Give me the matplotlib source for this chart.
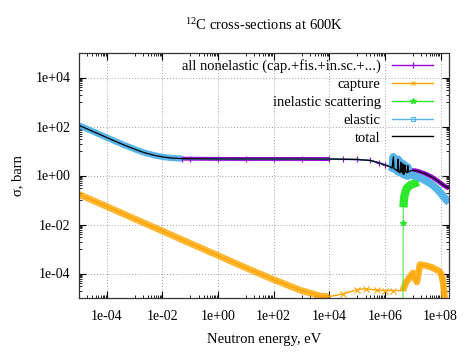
# 12C cross-sections at 600K, gnuplot-style log-log chart
import numpy as np
import matplotlib
matplotlib.use('Agg')
import matplotlib.pyplot as plt
from matplotlib.lines import Line2D
from matplotlib.ticker import FixedLocator, FuncFormatter, NullFormatter

plt.rcParams['font.family'] = ['Liberation Serif', 'DejaVu Serif']
plt.rcParams['mathtext.fontset'] = 'custom'
plt.rcParams['mathtext.rm'] = 'Liberation Serif'
plt.rcParams['mathtext.it'] = 'Liberation Serif:italic'

# ---- data (energy in eV, sigma in barn) ----
e_el = [1e-5, 2e-5, 5e-5, 1e-4, 2e-4, 5e-4, 1e-3, 2e-3, 5e-3, 1e-2, 2e-2, 5e-2,
        1e-1, 1e0, 1e1, 1e2, 1e3, 1e4, 3e4, 1e5, 3e5, 6e5, 1e6, 1.5e6, 1.8e6,
        2.0e6, 2.1e6, 2.5e6, 2.8e6, 2.95e6, 3.1e6, 3.5e6, 3.7e6, 3.9e6, 4.3e6,
        4.4e6, 4.6e6, 5.0e6, 5.3e6, 5.6e6, 6.3e6, 6.6e6, 7e6, 8e6, 9e6,
        1.2e7, 1.5e7, 2e7, 3e7, 5e7, 8e7, 1.2e8, 1.6e8, 2e8]
s_el = [111, 79, 50, 35.4, 25, 16.2, 11.9, 8.9, 6.7, 5.76, 5.2, 4.9,
        4.84, 4.76, 4.74, 4.74, 4.73, 4.7, 4.6, 4.5, 4.1, 3.3, 2.7, 2.3, 2.0,
        5.8, 1.9, 1.7, 1.5, 4.6, 1.4, 1.3, 3.5, 1.5, 1.25,
        3.0, 1.1, 1.05, 2.6, 1.1, 0.95, 2.2, 1.0, 1.05, 1.05,
        0.95, 0.88, 0.78, 0.6, 0.42, 0.26, 0.15, 0.1, 0.08]

e_tot_hi = [5.0e6, 5.3e6, 5.6e6, 6.3e6, 6.6e6, 7e6, 8e6, 9e6,
            1.2e7, 1.5e7, 2e7, 3e7, 5e7, 8e7, 1.2e8, 1.6e8, 2e8]
s_tot_hi = [1.2, 2.7, 1.4, 1.3, 2.5, 1.4, 1.5, 1.6,
            1.6, 1.5, 1.35, 1.15, 0.85, 0.6, 0.42, 0.34, 0.3]
n_lo = e_el.index(4.6e6) + 1
e_tot = e_el[:n_lo] + e_tot_hi
s_tot = s_el[:n_lo] + s_tot_hi

e_cap = [1e-5, 1e-4, 1e-3, 1e-2, 1e-1, 1e0, 1e1, 1e2, 1e3, 5e3, 1e4, 3e4, 1e5,
         2e5, 5e5, 1e6, 2e6, 4.4e6, 5.5e6, 7e6, 1e7, 1.2e7, 1.4e7, 1.8e7, 3e7,
         5e7, 9.4e7, 1.1e8, 1.25e8, 1.4e8]
s_cap = [0.17, 0.054, 0.017, 5.4e-3, 1.7e-3, 5.4e-4, 1.7e-4, 5.6e-5, 2.0e-5,
         1.2e-5, 1.15e-5, 1.45e-5, 2.2e-5, 2.4e-5, 2.1e-5, 2.0e-5, 2.0e-5,
         2.0e-5, 4e-5, 6e-5, 1.05e-4, 6e-5, 4.5e-5, 2.3e-4, 2.1e-4, 1.75e-4,
         1.2e-4, 8e-5, 4e-5, 1e-5]

e_inel = [4.43e6, 4.5e6, 4.6e6, 4.8e6, 5e6, 6e6, 8e6, 1e7, 1.3e7, 1.6e7]
s_inel = [1e-8, 0.012, 0.05, 0.1, 0.15, 0.3, 0.4, 0.45, 0.5, 0.55]

labels = ['all nonelastic (cap.+fis.+in.sc.+...)', 'capture',
          'inelastic scattering', 'elastic', 'total']
c_non, c_cap, c_inel, c_el, c_tot = '#9400d3', '#ffa500', '#2ee82e', '#56b4e9', 'black'

# ---- figure ----
fig = plt.figure(figsize=(4.74, 3.55), dpi=100)
ax = fig.add_axes([79 / 474, 1 - 298 / 355, 370 / 474, 245 / 355])

e_el_a, s_el_a = np.array(e_el), np.array(s_el)
e_tot_a, s_tot_a = np.array(e_tot), np.array(s_tot)
e_cap_a, s_cap_a = np.array(e_cap), np.array(s_cap)

# all nonelastic (follows total in the picture)
ax.plot(e_tot_a, s_tot_a, color=c_non, lw=1)
m = (e_tot_a > 4e-2) & (e_tot_a <= 1e4)
ax.plot(e_tot_a[m], s_tot_a[m], color=c_non, lw=2.8, solid_capstyle='butt')
m = e_tot_a >= 9e6
ax.plot(e_tot_a[m], s_tot_a[m], color=c_non, lw=3.2, solid_capstyle='butt')
m = (e_tot_a > 4e-2) & (e_tot_a <= 1e6)
ax.plot(e_tot_a[m], s_tot_a[m], ls='none', color=c_non, marker='+', ms=5, mew=0.8)

# capture
ax.plot(e_cap_a, s_cap_a, color=c_cap, lw=1)
m = e_cap_a <= 1e4
ax.plot(e_cap_a[m], s_cap_a[m], color=c_cap, lw=4.8, solid_capstyle='butt', alpha=0.8)
m = e_cap_a >= 4.4e6
ax.plot(e_cap_a[m], s_cap_a[m], color=c_cap, lw=4.8, solid_capstyle='butt', alpha=0.85)
m = (e_cap_a > 1e4) & (e_cap_a < 4.4e6)
ax.plot(e_cap_a[m], s_cap_a[m], ls='none', color=c_cap, marker='x', ms=4, mew=0.8)

# inelastic scattering
ax.plot(e_inel, s_inel, color=c_inel, lw=1, alpha=0.7)
ax.plot(e_inel[2:], s_inel[2:], color=c_inel, lw=6, solid_capstyle='butt')
ax.plot(e_inel[1:2], s_inel[1:2], ls='none', color=c_inel, marker='*', ms=4)

# elastic
ax.plot(e_el_a, s_el_a, color=c_el, lw=1.2)
m = e_el_a <= 5e-2
ax.plot(e_el_a[m], s_el_a[m], color=c_el, lw=4.5, solid_capstyle='butt')
m = e_el_a >= 1.5e6
ax.plot(e_el_a[m], s_el_a[m], color=c_el, lw=5.5, solid_capstyle='butt')

# total
ax.plot(e_tot_a, s_tot_a, color=c_tot, lw=0.9)

ax.set_xscale('log')
ax.set_yscale('log')
ax.set_xlim(1e-5, 2e8)
ax.set_ylim(1e-5, 1e5)

xmaj = [10.0 ** k for k in range(-4, 9, 2)]
ymaj = [10.0 ** k for k in range(-4, 5, 2)]
xmin_t = [10.0 ** (k - 1) * j for k in range(-4, 10, 2) for j in range(1, 10)]
ymin_t = [10.0 ** (k - 1) * j for k in range(-4, 6, 2) for j in range(1, 10)]
fmt = FuncFormatter(lambda v, p: format(v, '.0e'))
ax.xaxis.set_major_locator(FixedLocator(xmaj))
ax.yaxis.set_major_locator(FixedLocator(ymaj))
ax.xaxis.set_minor_locator(FixedLocator(xmin_t))
ax.yaxis.set_minor_locator(FixedLocator(ymin_t))
ax.xaxis.set_major_formatter(fmt)
ax.yaxis.set_major_formatter(fmt)
ax.xaxis.set_minor_formatter(NullFormatter())
ax.yaxis.set_minor_formatter(NullFormatter())

ax.tick_params(which='both', direction='in', top=True, right=True, labelsize=10)
ax.tick_params(which='major', length=5, width=0.8)
ax.tick_params(which='minor', length=2.5, width=0.6)
ax.tick_params(axis='x', pad=9)
ax.tick_params(axis='y', pad=6)
ax.grid(True, which='major', color='#a0a0a0', ls=(0, (1, 2)), lw=0.7)
for sp in ax.spines.values():
    sp.set_linewidth(0.9)
    sp.set_color('#333333')

ax.set_xlabel('Neutron energy, eV', fontsize=10.5, labelpad=7)
ax.set_ylabel('σ, barn', fontsize=10.5, labelpad=8)
fig.text(264 / 474, 1 - 25 / 355, r'$^{12}$C cross-sections at 600K',
         ha='center', va='center', fontsize=10.5)

handles = [
    Line2D([], [], color=c_non, lw=1, marker='+', ms=5, mew=0.8),
    Line2D([], [], color=c_cap, lw=1, marker='x', ms=3.5, mew=0.8),
    Line2D([], [], color=c_inel, lw=1, marker='*', ms=4),
    Line2D([], [], color=c_el, lw=1, marker='s', ms=3.5, mfc='none', mew=0.8),
    Line2D([], [], color=c_tot, lw=1),
]
ax.legend(handles, labels, loc='upper right', bbox_to_anchor=(0.957, 0.975),
          frameon=False, markerfirst=False, numpoints=1, fontsize=10.5,
          handlelength=2.8, handletextpad=0.8, labelspacing=0.32, borderaxespad=0,
          borderpad=0)

fig.savefig('out.png', dpi=100)
